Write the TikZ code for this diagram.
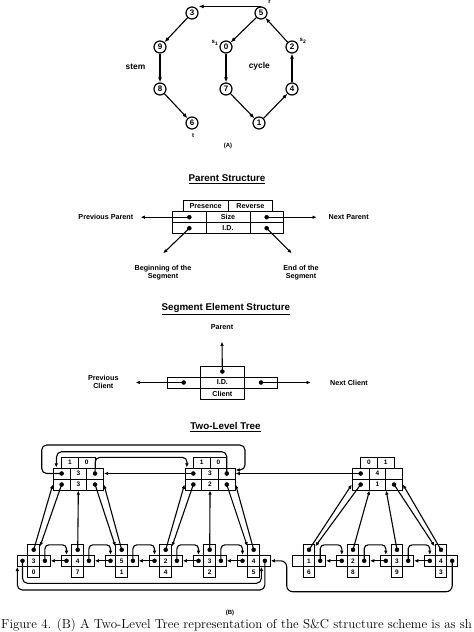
\documentclass[tikz,border=0pt]{standalone}
\usepackage{fontspec}
\setsansfont{Liberation Sans}
\usetikzlibrary{arrows.meta}
\tikzset{
  lbl/.style={font=\sffamily\bfseries\fontsize{7.2}{8.4}\selectfont, align=center, inner sep=0pt},
  ttl/.style={font=\sffamily\bfseries\fontsize{9.8}{11}\selectfont, inner sep=0pt},
  small/.style={font=\sffamily\bfseries\fontsize{6}{7}\selectfont, inner sep=0pt},
  vtx/.style={circle, draw, line width=1.2pt, minimum size=12pt, inner sep=0pt, font=\sffamily\bfseries\fontsize{8}{9}\selectfont},
  scell/.style={draw, line width=1pt, inner sep=0pt, minimum height=11pt, font=\sffamily\bfseries\fontsize{7.2}{8}\selectfont},
  tcell/.style={draw, line width=1pt, inner sep=0pt, minimum height=11pt, minimum width=16.7pt, font=\sffamily\bfseries\fontsize{6.5}{7}\selectfont},
  ecell/.style={draw, line width=1pt, inner sep=0pt, minimum height=11pt, font=\sffamily\bfseries\fontsize{6.5}{7}\selectfont},
  pdot/.style={circle, fill=black, draw=black, line width=0.4pt, inner sep=0pt, minimum size=4pt},
  ptr/.style={line width=1.1pt, -{Latex[length=4.2pt,width=3.6pt]}},
  aptr/.style={line width=1.1pt, -{Latex[length=5pt,width=4pt]}},
}
\newcommand{\ParentBox}[7]{%
  \node[tcell] (#1x) at ({#2+16.7},{#3-5.5}) {#4};
  \node[tcell] (#1y) at ({#2+33.4},{#3-5.5}) {#5};
  \node[tcell] (#1a) at ({#2+8.35},{#3+5.5}) {};
  \node[tcell] (#1b) at ({#2+25.05},{#3+5.5}) {#6};
  \node[tcell] (#1c) at ({#2+41.75},{#3+5.5}) {};
  \node[tcell] (#1d) at ({#2+8.35},{#3+16.5}) {};
  \node[tcell] (#1e) at ({#2+25.05},{#3+16.5}) {#7};
  \node[tcell] (#1f) at ({#2+41.75},{#3+16.5}) {};
}
\newcommand{\SegElem}[4]{%
  \node[ecell, minimum width=11.7pt] (#1t) at (#2,549.8) {};
  \node[ecell, minimum width=11.7pt] (#1i) at (#2,560.8) {#3};
  \node[ecell, minimum width=11.7pt] (#1c) at (#2,571.8) {#4};
  \node[ecell, minimum width=10.7pt] (#1l) at ({#2-11.2},560.8) {};
  \node[ecell, minimum width=10.7pt] (#1r) at ({#2+11.2},560.8) {};
  \node[pdot] (#1td) at (#1t) {};
}
\begin{document}
\begin{tikzpicture}[x=1pt,y=-1pt]
\useasboundingbox (0,0) rectangle (474,632);

% ---------------- Part A ----------------
\node[vtx] (n3) at (192,13) {3};
\node[vtx] (n5) at (261,13) {5};
\node[vtx] (n9) at (160,47) {9};
\node[vtx] (n0) at (226,47) {0};
\node[vtx] (n2) at (292,47) {2};
\node[vtx] (n8) at (160,89) {8};
\node[vtx] (n7) at (226,89) {7};
\node[vtx] (n4) at (292,89) {4};
\node[vtx] (n6) at (192,123) {6};
\node[vtx] (n1) at (259,123) {1};
\node[small, anchor=south] (lr) at (269.5,4) {r};
\node[small] (ls1) at (215,43) {s\textsubscript{1}};
\node[small] (ls2) at (303,41) {s\textsubscript{2}};
\node[small] (lt) at (193,135.5) {t};
\node[font=\sffamily\bfseries\fontsize{8.4}{9}\selectfont, inner sep=0pt] (lstem) at (135.5,67) {stem};
\node[font=\sffamily\bfseries\fontsize{8.4}{9}\selectfont, inner sep=0pt] (lcyc) at (259.3,66) {cycle};
\node[small] (lA) at (228,145.5) {(A)};
\draw[aptr] (n5.north) -- (n3.north -| n3.east);
\draw[aptr] (n3) -- (n9);
\draw[aptr] (n9) -- (n8);
\draw[aptr] (n8) -- (n6);
\draw[aptr] (n5) -- (n0);
\draw[aptr] (n0) -- (n7);
\draw[aptr] (n7) -- (n1);
\draw[aptr] (n1) -- (n4);
\draw[aptr] (n4) -- (n2);
\draw[aptr] (n2) -- (n5);

% ---------------- Parent Structure ----------------
\node[ttl] (t1) at (227,179) {\underline{Parent Structure}};
\node[scell, minimum width=44.7pt] (pres) at (205.65,206.2) {Presence};
\node[scell, minimum width=44.7pt] (rev) at (250.35,206.2) {Reverse};
\node[scell, minimum width=33.3pt] (ps1) at (189.35,217.2) {};
\node[scell, minimum width=44pt] (ps2) at (228,217.2) {Size};
\node[scell, minimum width=33.3pt] (ps3) at (266.65,217.2) {};
\node[scell, minimum width=33.3pt] (ps4) at (189.35,228.2) {};
\node[scell, minimum width=44pt] (ps5) at (228,228.2) {I.D.};
\node[scell, minimum width=33.3pt] (ps6) at (266.65,228.2) {};
\node[pdot] (pd1) at (ps1) {};
\node[pdot] (pd3) at (ps3) {};
\node[pdot] (pd4) at (ps4) {};
\node[pdot] (pd6) at (ps6) {};
\node[lbl, anchor=east] (prevp) at (133.5,217.2) {Previous Parent};
\node[lbl, anchor=west] (nextp) at (328.5,217.2) {Next Parent};
\node[lbl] (begs) at (163,272.5) {Beginning of the\\Segment};
\node[lbl] (ends) at (301,272.5) {End of the\\Segment};
\coordinate (tipPrevP) at (140.7,217.2);
\coordinate (tipNextP) at (316.7,217.2);
\coordinate (tipBeg) at (163.3,253.3);
\coordinate (tipEnd) at (291.7,253.3);
\draw[ptr] (pd1.center) -- (tipPrevP);
\draw[ptr] (pd3.center) -- (tipNextP);
\draw[ptr] (pd4.center) -- (tipBeg);
\draw[ptr] (pd6.center) -- (tipEnd);

% ---------------- Segment Element Structure ----------------
\node[ttl] (t2) at (225.8,309) {\underline{Segment Element Structure}};
\node[scell, minimum width=44.7pt] (set) at (222.35,371.5) {};
\node[scell, minimum width=44.7pt] (sei) at (222.35,382.5) {I.D.};
\node[scell, minimum width=44.7pt] (sec) at (222.35,393.5) {Client};
\node[scell, minimum width=32.7pt] (sel) at (183.65,382.5) {};
\node[scell, minimum width=32.7pt] (ser) at (261.05,382.5) {};
\node[pdot] (sdt) at (set) {};
\node[pdot] (sdl) at (sel) {};
\node[pdot] (sdr) at (ser) {};
\node[lbl] (lpar) at (222,327.3) {Parent};
\node[lbl] (lprevc) at (103.3,382.2) {Previous\\Client};
\node[lbl, anchor=west] (lnextc) at (330,382.5) {Next Client};
\coordinate (tipPar) at (222,341.7);
\coordinate (tipPrevC) at (135.7,382.5);
\coordinate (tipNextC) at (310.7,382.5);
\draw[ptr] (sdt.center) -- (tipPar);
\draw[ptr] (sdl.center) -- (tipPrevC);
\draw[ptr] (sdr.center) -- (tipNextC);

% ---------------- Two-Level Tree ----------------
\node[ttl] (t3) at (225.5,426.7) {\underline{Two-Level Tree}};
\ParentBox{P1}{53.3}{468}{1}{0}{3}{3}
\ParentBox{P2}{185}{468}{1}{0}{3}{2}
\ParentBox{P3}{352.3}{468}{0}{1}{4}{1}
\foreach \p in {P1,P2} {
  \node[pdot] (\p ad) at (\p a) {};
  \node[pdot] (\p cd) at (\p c) {};
  \node[pdot] (\p dd) at (\p d) {};
  \node[pdot] (\p fd) at (\p f) {};
}
\node[pdot] (P3ad) at (P3a) {};
\node[pdot] (P3dd) at (P3d) {};
\node[pdot] (P3fd) at (P3f) {};

\SegElem{E1}{33.7}{3}{0}
\SegElem{E2}{77.7}{4}{7}
\SegElem{E3}{121.7}{5}{1}
\SegElem{E4}{165.7}{2}{4}
\SegElem{E5}{209.7}{3}{2}
\SegElem{E6}{253.7}{4}{5}
\SegElem{F1}{309}{1}{6}
\SegElem{F2}{353}{2}{8}
\SegElem{F3}{397}{3}{9}
\SegElem{F4}{441}{4}{3}
\foreach \e in {E1,E2,E3,E4,E5,E6,F2,F3,F4} { \node[pdot] (\e ld) at (\e l) {}; }
\foreach \e in {E1,E2,E3,E4,E5,E6,F1,F2,F3,F4} { \node[pdot] (\e rd) at (\e r) {}; }

% parent-level links
\draw[ptr, rounded corners=5] (P1ad.center) -| (41.7,445) -| (245,470) -- ([yshift=3.5pt]P2c.east);
\draw[ptr, rounded corners=5] (P2cd.center) |- (56.7,451.7) -- ([xshift=3.4pt]P1a.north west);
\draw[ptr, rounded corners=5] (P1cd.center) |- (187.3,457.3) -- ([xshift=2.3pt]P2a.north west);
\draw[ptr] (P2ad.center) -- (P1c.east);
\draw[ptr] (P3ad.center) -- (P2c.east);

% parent <-> segment elements
\draw[ptr] (P1dd.center) -- ([yshift=-2.5pt]E1t.north east);
\draw[ptr] (E1td.center) -- (P1d.west);
\draw[ptr] (E2td.center) -- (P1e.south);
\draw[ptr] (P1fd.center) -- ([yshift=-2.5pt]E3t.north west);
\draw[ptr] (E3td.center) -- (P1f.east);

\draw[ptr] (P2dd.center) -- ([yshift=-2.5pt]E4t.north east);
\draw[ptr] (E4td.center) -- (P2d.west);
\draw[ptr] (E5td.center) -- (P2e.south);
\draw[ptr] (P2fd.center) -- ([yshift=-2.5pt]E6t.north west);
\draw[ptr] (E6td.center) -- (P2f.east);

\draw[ptr] (P3dd.center) -- ([yshift=-2.5pt]F1t.north east);
\draw[ptr] (F1td.center) -- (P3d.west);
\draw[ptr] (F2td.center) -- (P3d.south east);
\draw[ptr] (F3td.center) -- (P3e.south east);
\draw[ptr] (P3fd.center) -- ([yshift=-2.5pt]F4t.north west);
\draw[ptr] (F4td.center) -- (P3f.east);

% element-level links
\foreach \a/\b in {E1/E2,E2/E3,E3/E4,E4/E5,E5/E6,F1/F2,F2/F3,F3/F4} {
  \draw[ptr, rounded corners=4] (\a rd.center) -- ++(0,-16) -| (\b l.north);
  \draw[ptr] (\b ld.center) -- (\a r.east);
}
\draw[ptr, rounded corners=5] (E1ld.center) -- (22.5,583.3) -| ([xshift=-3.5pt]E6r.south);
\draw[ptr, rounded corners=5] (E6rd.center) -- (264.9,590) -| ([xshift=-5.2pt]E1l.south);
\draw[ptr, rounded corners=6] (F4rd.center) -- (452.2,591.7) -| (286.7,560.8) -- (E6r.east);

\node[small] (lB) at (230,613.3) {(B)};

\node[anchor=base west, inner sep=0pt, font=\rmfamily\fontsize{13}{13}\selectfont] (cap) at (1,628.5) {Figure 4. (B) A Two-Level Tree representation of the S\&C structure scheme is as sh};
\end{tikzpicture}
\end{document}
